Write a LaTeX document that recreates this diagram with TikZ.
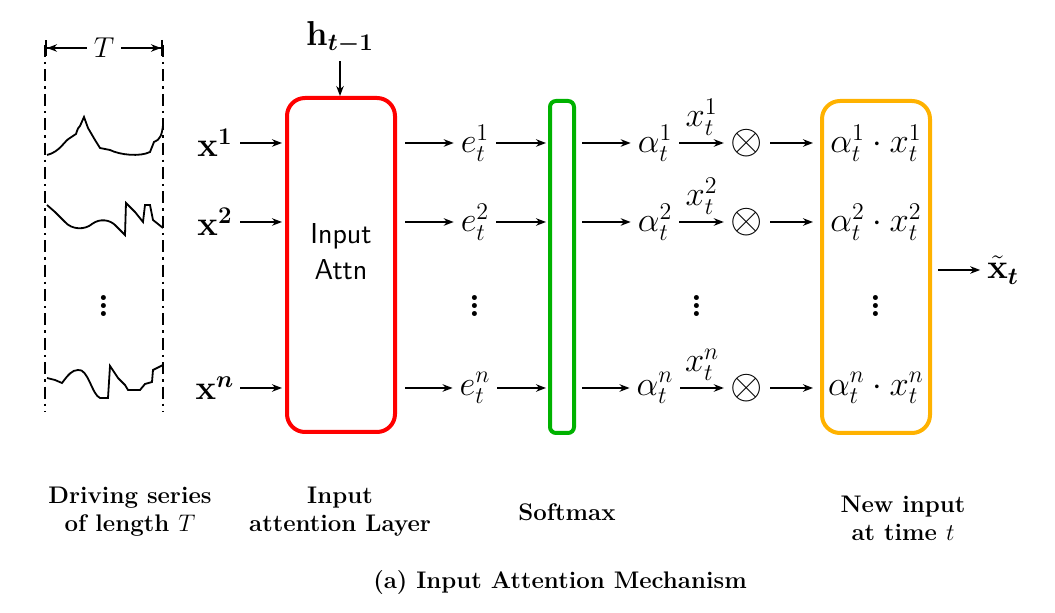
\documentclass[tikz,border=0pt]{standalone}
\usepackage{amsmath,amssymb,bm}
\usetikzlibrary{arrows.meta}
\tikzset{
  flow/.style={-{Stealth[length=5pt]}, line width=0.8pt},
  blk/.style={draw, rounded corners=9pt, line width=2pt},
  lbl/.style={font=\large\bfseries, align=center},
  math/.style={font=\LARGE},
  win/.style={line width=1pt, dash pattern=on 6pt off 2.5pt on 1.2pt off 2.5pt}
}
\begin{document}
\begin{tikzpicture}[x=0.5pt,y=-0.5pt]
  \useasboundingbox (0,0) rectangle (1055,613);

  % Window of length T
  \draw[win] (45,45) -- (45,412);
  \draw[win] (163,45) -- (163,412);
  \node[font=\Large] (T) at (104,48) {$T$};
  \coordinate (tl) at (45,48);
  \coordinate (tr) at (163,48);
  \draw[{Bar[width=8pt]Stealth[length=5pt]}-, line width=1pt] (tl) -- (T);
  \draw[-{Stealth[length=5pt]Bar[width=8pt]}, line width=1pt] (T) -- (tr);

  % Driving series
  \draw[line width=0.9pt] (47,155) .. controls (60,152) and (65,140) .. (70,138) -- (76,134) .. controls (78,128) and (78,128) .. (80,126) -- (84,117) -- (88,128) -- (95,140) -- (100,148) -- (110,150) .. controls (120,155) and (140,157) .. (150,152) -- (154,142) .. controls (160,140) and (162,135) .. (163,125);
  \draw[line width=0.9pt] (47,205) -- (55,212) -- (65,222) .. controls (72,230) and (85,230) .. (92,224) .. controls (100,218) and (110,220) .. (115,225) -- (125,235) -- (126,203) -- (135,212) -- (143,222) -- (145,205) -- (150,205) -- (153,220) -- (163,228);
  \draw[line width=0.9pt] (47,378) -- (55,380) -- (62,383) .. controls (68,375) and (72,370) .. (78,370) .. controls (88,368) and (92,395) .. (100,398) -- (108,398) -- (110,366) -- (118,378) -- (125,385) -- (128,390) -- (140,390) -- (145,384) -- (152,382) -- (153,370) -- (163,365);
  \node[font=\LARGE\bfseries] (vd) at (104,300) {$\vdots$};

  % Input attention block
  \node[blk, draw=red, minimum width=54pt, minimum height=167pt] (attn) at (341,265) {};
  \node[font=\Large\sffamily, align=center] (attntxt) at (341,252) {Input\\Attn};
  \node[math] (h) at (340,38) {$\mathbf{h}_{\bm{t-1}}$};
  \draw[flow] (h) -- (attn.north -| h);

  % Softmax block
  \node[blk, draw=green!70!black, rounded corners=3pt, minimum width=12pt, minimum height=166pt] (soft) at (562,267) {};

  % New input block
  \node[blk, draw=orange!60!yellow, minimum width=54pt, minimum height=166pt] (out) at (876,267) {};

  % Rows
  \foreach \i/\s/\y in {1/1/143, 2/2/222, n/n/388}{
    \node[math] (x\i) at (215,\y) {$\mathbf{x}^{\bm{\s}}$};
    \coordinate (ain\i) at (282,\y);
    \draw[flow] (240,\y) -- (ain\i);
    \coordinate (aout\i) at (405,\y);
    \node[math] (e\i) at (475,\y) {$e_t^{\s}$};
    \draw[flow] (aout\i) -- (e\i);
    \coordinate (sin\i) at (546,\y);
    \draw[flow] (e\i) -- (sin\i);
    \coordinate (sout\i) at (582,\y);
    \node[math] (al\i) at (655,\y) {$\alpha_t^{\s}$};
    \draw[flow] (sout\i) -- (al\i);
    \node[font=\huge] (m\i) at (747,\y) {$\otimes$};
    \draw[flow] (al\i) -- node[above=0pt, math] {$x_t^{\s}$} (m\i);
    \coordinate (oin\i) at (813,\y);
    \draw[flow] (m\i) -- (oin\i);
    \node[math] (p\i) at (876,\y) {$\alpha_t^{\s}\cdot x_t^{\s}$};
  }
  \node[font=\LARGE\bfseries] at (475,300) {$\vdots$};
  \node[font=\LARGE\bfseries] at (697,300) {$\vdots$};
  \node[font=\LARGE\bfseries] at (876,300) {$\vdots$};

  \node[math] (xt) at (1003,270) {$\tilde{\mathbf{x}}_{\bm{t}}$};
  \draw[flow] (out.east |- xt) ++(6,0) coordinate (oe) -- (xt);

  % Labels
  \node[lbl] at (130,512) {Driving series\\of length $T$};
  \node[lbl] at (340,512) {Input\\attention Layer};
  \node[lbl] at (567,512) {Softmax};
  \node[lbl] at (903,518) {New input\\at time $t$};
  \node[lbl] at (560,583) {(a) Input Attention Mechanism};
\end{tikzpicture}
\end{document}
